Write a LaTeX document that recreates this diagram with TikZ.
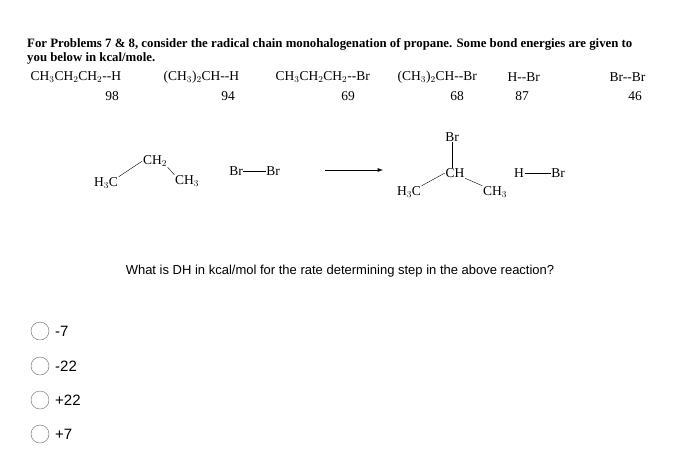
\documentclass[tikz,border=0pt]{standalone}
\usepackage{fontspec}
\setmainfont{Liberation Serif}
\newfontfamily\qsans{Liberation Sans}
\newcommand{\dd}{-{}-}
\begin{document}
\begin{tikzpicture}[x=1pt,y=-1pt,
  t/.style={inner sep=0.5pt,font=\fontsize{13.5}{15}\selectfont},
  hd/.style={anchor=west,inner sep=0,font=\bfseries\fontsize{12.8}{15}\selectfont},
  opt/.style={anchor=west,inner sep=0,font=\qsans\fontsize{15}{17}\selectfont},
  radio/.style={circle,draw=black!60,minimum size=18pt,inner sep=0}]
\useasboundingbox[fill=white] (0,0) rectangle (700,466);
\node[hd] (h1) at (27,44) {For Problems 7 \& 8, consider the radical chain monohalogenation of propane. Some bond energies are given to};
\node[hd] (h2) at (27,58) {you below in kcal/mole.};
\node[t,anchor=west] (b1) at (30,77) {CH$_3$CH$_2$CH$_2$\dd H};
\node[t] (n1) at (112,96) {98};
\node[t,anchor=west] (b2) at (163,77) {(CH$_3$)$_2$CH\dd H};
\node[t] (n2) at (228,96) {94};
\node[t,anchor=west] (b3) at (275,77) {CH$_3$CH$_2$CH$_2$\dd Br};
\node[t] (n3) at (348,96) {69};
\node[t,anchor=west] (b4) at (397,77) {(CH$_3$)$_2$CH\dd Br};
\node[t] (n4) at (457,96) {68};
\node[t,anchor=west] (b5) at (507,77) {H\dd Br};
\node[t] (n5) at (522,96) {87};
\node[t,anchor=west] (b6) at (609,77) {Br\dd Br};
\node[t] (n6) at (635,96) {46};
% propane
\node[t] (a1) at (106,183) {H$_3$C};
\node[t] (a2) at (155,161) {CH$_2$};
\node[t] (a3) at (187,181) {CH$_3$};
\draw (a1.north east) -- (a2.west);
\draw (a2.south east) -- (a3.north west);
% Br2
\node[t] (r1) at (236,171) {Br};
\node[t] (r2) at (273,171) {Br};
\draw (r1) -- (r2);
% arrow
\coordinate (ar1) at (325,170);
\coordinate (ar2) at (383,170);
\draw[-latex,line width=0.9pt] (ar1) -- (ar2);
% product
\node[t] (p0) at (452,137) {Br};
\node[t] (p1) at (455,173) {CH};
\node[t] (p2) at (409,192) {H$_3$C};
\node[t] (p3) at (495,192) {CH$_3$};
\draw (p0) -- (p1.north west -| p0);
\draw (p2.north east) -- (p1.west);
\draw (p1.south east) -- (p3.north west);
\node[t] (q1) at (519,173) {H};
\node[t] (q2) at (558,173) {Br};
\draw (q1) -- (q2);
\node[inner sep=0,font=\qsans\fontsize{13}{15}\selectfont] (qq) at (340,271) {What is DH in kcal/mol for the rate determining step in the above reaction?};
\node[radio] (c1) at (40,331) {}; \node[opt] (o1) at (55,331) {-7};
\node[radio] (c2) at (40,366) {}; \node[opt] (o2) at (55,366) {-22};
\node[radio] (c3) at (40,400) {}; \node[opt] (o3) at (55,400) {+22};
\node[radio] (c4) at (40,434) {}; \node[opt] (o4) at (55,434) {+7};
\end{tikzpicture}
\end{document}
